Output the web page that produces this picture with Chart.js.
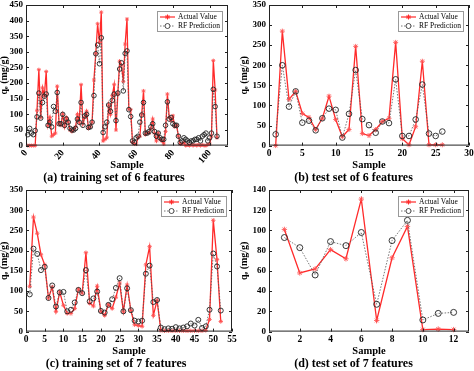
<!DOCTYPE html>
<html>
<head>
<meta charset="utf-8">
<script src="https://cdn.jsdelivr.net/npm/chart.js@4/dist/chart.umd.min.js"></script>
<style>
    body { margin: 0; background: #fff; }
    .panel { position: absolute; }
</style>
</head>
<body>
<div class="panel" style="left:0;top:0"><canvas id="chartA" width="237" height="185"></canvas></div>
<div class="panel" style="left:237px;top:0"><canvas id="chartB" width="237" height="185"></canvas></div>
<div class="panel" style="left:0;top:185px"><canvas id="chartC" width="237" height="186"></canvas></div>
<div class="panel" style="left:237px;top:185px"><canvas id="chartD" width="237" height="186"></canvas></div>
<script>
// (a) training set of 6 features
const actualA = [0, 0, 0, 0, 0, 113, 243, 90, 185, 160, 237, 65, 90, 30, 35, 40, 190, 70, 65, 100,
    60, 90, 75, 50, 45, 50, 60, 100, 75, 195, 70, 90, 110, 55, 60, 75, 210, 295, 390, 330,
    427, 15, 20, 25, 130, 100, 160, 195, 50, 165, 270, 258, 205, 325, 405, 117, 115, 10, 5, 5,
    25, 30, 100, 175, 35, 40, 40, 55, 85, 40, 15, 40, 20, 15, 5, 45, 165, 90, 80, 95,
    60, 65, 30, 5, 5, 10, 0, 2, 0, 3, 0, 2, 0, 3, 0, 2, 0, 0, 3, 5,
    30, 272, 178, 25];
const predA = [35, 55, 40, 35, 48, 92, 168, 88, 138, 158, 165, 65, 75, 60, 125, 110, 170, 70, 70, 100,
    65, 85, 75, 55, 50, 50, 55, 85, 75, 138, 65, 95, 100, 58, 60, 75, 160, 294, 322, 262,
    345, 42, 60, 75, 130, 110, 145, 165, 80, 168, 245, 265, 175, 295, 303, 115, 93, 15, 10, 25,
    30, 75, 98, 138, 40, 40, 45, 60, 70, 45, 30, 40, 25, 20, 20, 65, 140, 85, 90, 70,
    65, 65, 30, 10, 15, 25, 20, 15, 10, 15, 15, 20, 20, 25, 15, 30, 35, 40, 15, 25,
    40, 180, 125, 30];
const xTicksA = [0, 10, 20, 30, 40, 50, 60, 70, 80, 90, 100, 110];
const yTicksA = [0, 50, 100, 150, 200, 250, 300, 350, 400, 450];

// (b) test set of 6 features
const actualB = [0, 285, 115, 135, 80, 70, 40, 68, 123, 65, 22, 40, 247, 30, 25, 40, 60, 68, 257, 17,
    2, 47, 210, 2, 2, 2];
const predB = [28, 200, 97, 135, 57, 62, 38, 68, 92, 89, 20, 79, 188, 66, 51, 32, 60, 56, 165, 24,
    24, 65, 152, 30, 24, 35];
const xTicksB = [0, 5, 10, 15, 20, 25, 30];
const yTicksB = [0, 50, 100, 150, 200, 250, 300, 350];

// (c) training set of 7 features
const actualC = [112, 283, 243, 190, 165, 83, 110, 50, 98, 65, 45, 45, 57, 105, 95, 195, 70, 63, 112, 50,
    40, 67, 57, 85, 120, 50, 115, 52, 17, 15, 13, 165, 210, 40, 77, 3, 2, 2, 2, 2,
    2, 2, 2, 2, 2, 2, 2, 3, 30, 275, 178, 25];
const predC = [92, 205, 192, 152, 160, 83, 114, 62, 97, 98, 50, 54, 72, 103, 95, 152, 75, 82, 99, 51,
    47, 66, 80, 108, 132, 50, 107, 53, 27, 25, 27, 143, 163, 73, 78, 10, 6, 8, 7, 11,
    8, 10, 13, 20, 15, 29, 9, 13, 54, 193, 161, 52];
const xTicksC = [0, 5, 10, 15, 20, 25, 30, 35, 40, 45, 50, 55];
const yTicksC = [0, 50, 100, 150, 200, 250, 300, 350];

// (d) test set of 7 features
const actualD = [101, 58, 62, 81, 72, 131, 11, 73, 104, 2, 2.5, 2];
const predD = [93, 83, 56, 89, 85, 98, 27, 90, 110, 11.5, 18, 19];
const xTicksD = [0, 2, 4, 6, 8, 10, 12];
const yTicksD = [0, 10, 20, 30, 40, 50, 60, 70, 80, 90, 100, 110, 120, 130, 140];

const seriesNames = ['Actual Value', 'RF Prediction'];
const SERIF = '"Liberation Serif", "Times New Roman", serif';
const RED = '#ff2a2a';

// box around the axes with inward ticks on all four sides, plus a MATLAB-like legend
const frameAndLegend = {
    id: 'frameAndLegend',
    afterDraw(chart) {
        const { ctx, chartArea: a, scales: { x, y } } = chart;
        const opt = chart.options.plugins.frameAndLegend;
        ctx.save();
        ctx.strokeStyle = '#222';
        ctx.lineWidth = 1;
        ctx.strokeRect(a.left + 0.5, a.top + 0.5, a.right - a.left - 1, a.bottom - a.top - 1);
        ctx.beginPath();
        x.ticks.forEach(t => {
            const px = Math.round(x.getPixelForValue(t.value)) + 0.5;
            ctx.moveTo(px, a.bottom); ctx.lineTo(px, a.bottom - 3);
            ctx.moveTo(px, a.top); ctx.lineTo(px, a.top + 3);
        });
        y.ticks.forEach(t => {
            const py = Math.round(y.getPixelForValue(t.value)) + 0.5;
            ctx.moveTo(a.left, py); ctx.lineTo(a.left + 3, py);
            ctx.moveTo(a.right, py); ctx.lineTo(a.right - 3, py);
        });
        ctx.stroke();

        // legend
        const w = 65, h = 20;
        const bx = a.right - opt.right - w, by = a.top + opt.top;
        ctx.fillStyle = '#fff';
        ctx.fillRect(bx, by, w, h);
        ctx.strokeStyle = '#999';
        ctx.strokeRect(bx + 0.5, by + 0.5, w, h);
        const r1 = by + 6, r2 = by + 15;
        // actual value row
        ctx.strokeStyle = RED;
        ctx.lineWidth = 1.2;
        ctx.beginPath(); ctx.moveTo(bx + 3, r1); ctx.lineTo(bx + 18, r1); ctx.stroke();
        ctx.lineWidth = 1;
        ctx.beginPath();
        ctx.moveTo(bx + 10.5 - 2.5, r1); ctx.lineTo(bx + 10.5 + 2.5, r1);
        ctx.moveTo(bx + 10.5, r1 - 2.5); ctx.lineTo(bx + 10.5, r1 + 2.5);
        ctx.moveTo(bx + 8.7, r1 - 1.8); ctx.lineTo(bx + 12.3, r1 + 1.8);
        ctx.moveTo(bx + 8.7, r1 + 1.8); ctx.lineTo(bx + 12.3, r1 - 1.8);
        ctx.stroke();
        // prediction row
        ctx.strokeStyle = '#555';
        ctx.lineWidth = 0.8;
        ctx.setLineDash([1.5, 1.5]);
        ctx.beginPath(); ctx.moveTo(bx + 3, r2); ctx.lineTo(bx + 18, r2); ctx.stroke();
        ctx.setLineDash([]);
        ctx.strokeStyle = '#222';
        ctx.fillStyle = '#fff';
        ctx.beginPath(); ctx.arc(bx + 10.5, r2, 2.5, 0, Math.PI * 2); ctx.fill(); ctx.stroke();

        ctx.fillStyle = '#000';
        ctx.font = '7.5px ' + SERIF;
        ctx.textBaseline = 'middle';
        ctx.fillText(seriesNames[0], bx + 21, r1);
        ctx.fillText(seriesNames[1], bx + 21, r2);
        ctx.restore();
    }
};

function toPoints(values) {
    return values.map((v, i) => ({ x: i + 1, y: v }));
}

function makeChart(id, actual, pred, xTicks, yTicks, caption, o) {
    const ctx = document.getElementById(id).getContext('2d');
    return new Chart(ctx, {
        type: 'line',
        data: {
            datasets: [{
                label: seriesNames[0],
                data: toPoints(actual),
                borderColor: RED,
                borderWidth: 1.3,
                pointStyle: 'star',
                pointRadius: o.radius,
                pointBorderColor: 'rgba(255,80,80,0.85)',
                pointBorderWidth: 1,
                pointBackgroundColor: 'rgba(255,150,150,0.5)',
                tension: 0,
                clip: false,
                order: 1
            }, {
                label: seriesNames[1],
                data: toPoints(pred),
                borderColor: '#555',
                borderWidth: 0.8,
                borderDash: [1.5, 1.5],
                pointStyle: 'circle',
                pointRadius: o.radius + 0.3,
                pointBorderColor: '#222',
                pointBorderWidth: 0.9,
                pointBackgroundColor: 'rgba(0,0,0,0)',
                tension: 0,
                clip: false,
                order: 0
            }]
        },
        options: {
            responsive: false,
            animation: false,
            events: [],
            layout: { padding: { top: o.top, right: o.right, left: 0, bottom: 0 } },
            scales: {
                x: {
                    type: 'linear',
                    min: xTicks[0],
                    max: xTicks[xTicks.length - 1] + (o.xExtra || 0),
                    grid: { display: false, drawTicks: false },
                    border: { display: false },
                    afterBuildTicks: s => { s.ticks = xTicks.map(v => ({ value: v })); },
                    afterFit: s => { s.height = 25; s.paddingLeft = 0; s.paddingRight = 0; },
                    ticks: {
                        padding: 2,
                        color: '#000',
                        font: { family: SERIF, size: 9.5, weight: 'bold' }
                    },
                    title: {
                        display: true,
                        text: 'Sample',
                        color: '#000',
                        padding: 0,
                        font: { family: SERIF, size: 10.5, weight: 'bold', lineHeight: 1 }
                    }
                },
                y: {
                    min: yTicks[0],
                    max: yTicks[yTicks.length - 1],
                    grid: { display: false, drawTicks: false },
                    border: { display: false },
                    afterBuildTicks: s => { s.ticks = yTicks.map(v => ({ value: v })); },
                    afterFit: s => { s.width = o.yWidth; s.paddingTop = 0; s.paddingBottom = 0; },
                    ticks: {
                        padding: 3,
                        color: '#000',
                        font: { family: SERIF, size: 9, weight: 'bold' }
                    },
                    title: {
                        display: true,
                        text: 'qₑ (mg/g)',
                        color: '#000',
                        padding: { top: o.yTitlePad, bottom: 0 },
                        font: { family: SERIF, size: 10, weight: 'bold', lineHeight: 0.8 }
                    }
                }
            },
            plugins: {
                legend: { display: false },
                tooltip: { enabled: false },
                title: {
                    display: true,
                    position: 'bottom',
                    text: caption,
                    color: '#000',
                    padding: 0,
                    font: { family: SERIF, size: 12, weight: 'bold' }
                },
                frameAndLegend: { right: 6, top: 6 }
            }
        },
        plugins: [frameAndLegend]
    });
}

makeChart('chartA', actualA, predA, xTicksA, yTicksA, '(a) training set of 6 features',
    { yWidth: 26, right: 9, top: 3, radius: 2, yTitlePad: 0 });
makeChart('chartB', actualB, predB, xTicksB, yTicksB, '(b) test set of 6 features',
    { yWidth: 32, right: 4, top: 3, radius: 2.5, yTitlePad: 3 });
makeChart('chartC', actualC, predC, xTicksC, yTicksC, '(c) training set of 7 features',
    { yWidth: 26, right: 5, top: 4, radius: 2.2, yTitlePad: 0 });
makeChart('chartD', actualD, predD, xTicksD, yTicksD, '(d) test set of 7 features',
    { yWidth: 32, right: 4, top: 4, radius: 2.7, yTitlePad: 3, xExtra: 1 });
</script>
</body>
</html>
